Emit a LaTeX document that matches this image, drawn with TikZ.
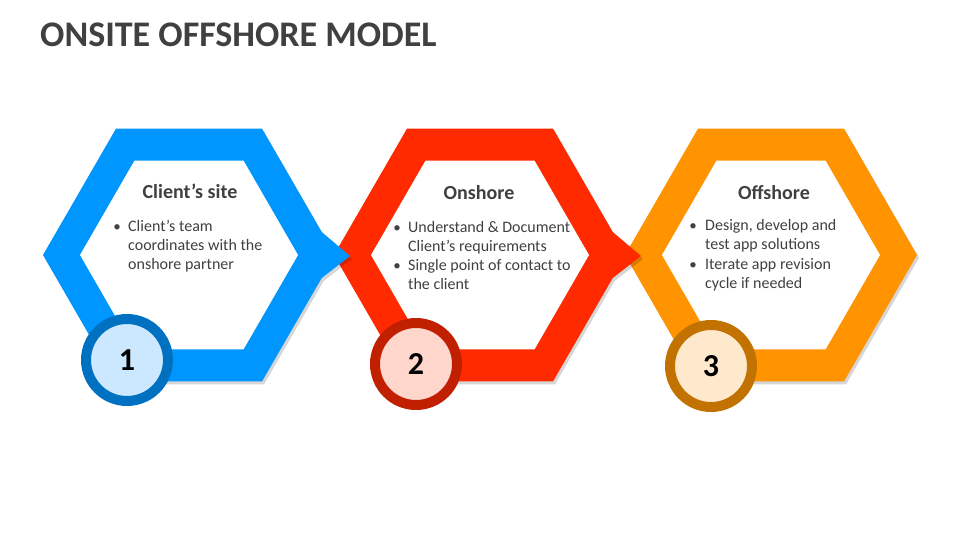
\documentclass[tikz,border=0pt]{standalone}
\usepackage{fontspec}
\setmainfont{Carlito}
\definecolor{titlegray}{RGB}{64,64,64}
\definecolor{bodygray}{RGB}{64,64,64}
\definecolor{bandblue}{RGB}{0,150,255}
\definecolor{ringblue}{RGB}{0,112,192}
\definecolor{fillblue}{RGB}{204,232,255}
\definecolor{bandred}{RGB}{255,42,0}
\definecolor{ringred}{RGB}{192,32,0}
\definecolor{fillred}{RGB}{255,214,204}
\definecolor{bandorange}{RGB}{255,147,0}
\definecolor{ringorange}{RGB}{194,114,0}
\definecolor{fillorange}{RGB}{255,233,204}
\tikzset{
  titletext/.style={font=\fontsize{36}{40}\selectfont\bfseries, text=titlegray, anchor=base west, inner sep=0pt},
  headtext/.style={font=\fontsize{20}{24}\selectfont\bfseries, text=titlegray, anchor=base, inner sep=0pt},
  bodyline/.style={font=\fontsize{16}{19}\selectfont, text=bodygray, anchor=base west, inner sep=0pt},
  bulletmark/.style={font=\fontsize{15}{19}\selectfont, text=bodygray, anchor=base, inner sep=0pt},
  numlabel/.style={font=\fontsize{32}{36}\selectfont\bfseries, text=black, circle, minimum size=82pt, line width=10pt, inner sep=0pt},
  shadowfill/.style={fill=black, opacity=0.16},
  innerhole/.style={fill=white},
}
\begin{document}
\begin{tikzpicture}[x=1pt,y=-1pt]
\useasboundingbox[fill=white] (0,0) rectangle (960,540);

% title
\node[titletext] (title) at (40,47) {ONSITE OFFSHORE MODEL};

% orange hexagon (no tip)
\def\cx{771}
\fill[shadowfill] (\cx-146+2,255+3) -- (\cx-73+2,128.6+3) -- (\cx+73+2,128.6+3) -- (\cx+146+2,255+3) -- (\cx+73+2,381.4+3) -- (\cx-73+2,381.4+3) -- cycle;
\fill[bandorange] (\cx-146,255) -- (\cx-73,128.6) -- (\cx+73,128.6) -- (\cx+146,255) -- (\cx+73,381.4) -- (\cx-73,381.4) -- cycle;
\fill[innerhole] (\cx-109,255) -- (\cx-54.5,160.6) -- (\cx+54.5,160.6) -- (\cx+109,255) -- (\cx+54.5,349.4) -- (\cx-54.5,349.4) -- cycle;

% red and blue hexagons (with tip)
\foreach \hx/\col in {480/bandred, 189/bandblue}{
  \fill[shadowfill] (\hx-146+2,255+3) -- (\hx-73+2,128.6+3) -- (\hx+73+2,128.6+3) -- (\hx+132.7+2,232+3) -- (\hx+161+2,256+3) -- (\hx+132.7+2,278+3) -- (\hx+73+2,381.4+3) -- (\hx-73+2,381.4+3) -- cycle;
  \fill[\col] (\hx-146,255) -- (\hx-73,128.6) -- (\hx+73,128.6) -- (\hx+132.7,232) -- (\hx+161,256) -- (\hx+132.7,278) -- (\hx+73,381.4) -- (\hx-73,381.4) -- cycle;
  \fill[innerhole] (\hx-109,255) -- (\hx-54.5,160.6) -- (\hx+54.5,160.6) -- (\hx+109,255) -- (\hx+54.5,349.4) -- (\hx-54.5,349.4) -- cycle;
}

% headings
\node[headtext] (h1) at (190,198) {Client’s site};
\node[headtext] (h2) at (479,200) {Onshore};
\node[headtext] (h3) at (774,200) {Offshore};

% blue body
\node[bulletmark] (b1a) at (117,231) {•};
\node[bodyline] (t1a) at (128,231) {Client’s team};
\node[bodyline] (t1b) at (128,250) {coordinates with the};
\node[bodyline] (t1c) at (128,269) {onshore partner};

% red body
\node[bulletmark] (b2a) at (397,232) {•};
\node[bodyline] (t2a) at (408,232) {Understand \& Document};
\node[bodyline] (t2b) at (408,251) {Client’s requirements};
\node[bulletmark] (b2b) at (397,270) {•};
\node[bodyline] (t2c) at (408,270) {Single point of contact to};
\node[bodyline] (t2d) at (408,289) {the client};

% orange body
\node[bulletmark] (b3a) at (693,230) {•};
\node[bodyline] (t3a) at (705,230) {Design, develop and};
\node[bodyline] (t3b) at (705,249) {test app solutions};
\node[bulletmark] (b3b) at (693,269) {•};
\node[bodyline] (t3c) at (705,269) {Iterate app revision};
\node[bodyline] (t3d) at (705,288) {cycle if needed};

% number circles
\node[numlabel, draw=ringblue, fill=fillblue] (n1) at (127,360) {1};
\node[numlabel, draw=ringred, fill=fillred] (n2) at (416,364) {2};
\node[numlabel, draw=ringorange, fill=fillorange] (n3) at (711,366) {3};
\end{tikzpicture}
\end{document}
